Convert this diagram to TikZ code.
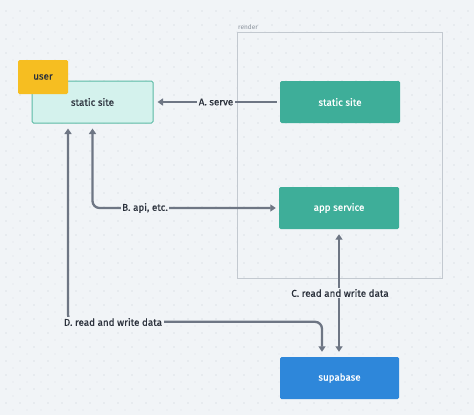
\documentclass[tikz,border=0pt]{standalone}
\usepackage{fontspec}
\setmainfont{Fira Sans}[BoldFont=Fira Sans, BoldFeatures={FakeBold=0.6}]
\usetikzlibrary{arrows.meta}
\definecolor{bgc}{HTML}{F1F4F7}
\definecolor{dotc}{HTML}{C9CED5}
\definecolor{dotl}{HTML}{DDE1E6}
\definecolor{framec}{HTML}{C3C9D0}
\definecolor{tealdark}{HTML}{3EAE99}
\definecolor{teallight}{HTML}{D4F2ED}
\definecolor{tealborder}{HTML}{5BBAA5}
\definecolor{yellowc}{HTML}{F6BE21}
\definecolor{bluec}{HTML}{2E87DA}
\definecolor{arrc}{HTML}{6E7684}
\definecolor{txtc}{HTML}{2B313C}
\definecolor{labc}{HTML}{8A929C}
\tikzset{
  boxbase/.style={rectangle, rounded corners=1.5pt, inner sep=0pt, font=\fontsize{9.8}{11}\selectfont\bfseries},
  darkbox/.style={boxbase, fill=tealdark, text=white, minimum width=120pt, minimum height=42pt},
  lightbox/.style={boxbase, fill=teallight, draw=tealborder, line width=1pt, text=txtc, minimum width=121pt, minimum height=42pt},
  userbox/.style={boxbase, fill=yellowc, text=txtc, minimum width=50pt, minimum height=34pt},
  bluebox/.style={boxbase, fill=bluec, text=white, minimum width=119pt, minimum height=42pt},
  arr/.style={draw=arrc, line width=2.3pt},
  tip/.style={-{Triangle[length=5.5pt,width=7pt]}},
  twotip/.style={{Triangle[length=5.5pt,width=7pt]}-{Triangle[length=5.5pt,width=7pt]}},
  lbl/.style={fill=bgc, text=txtc, inner sep=1.5pt, font=\fontsize{9.8}{11}\selectfont\bfseries},
}
\begin{document}
\begin{tikzpicture}[x=1pt,y=-1pt]
\fill[bgc] (0,0) rectangle (474,415);
\useasboundingbox (0,0) rectangle (474,415);
% dot grid
\foreach \i in {0,...,33} {
  \foreach \j in {0,...,29} {
    \fill[dotc] (6+14*\i,11+14*\j) circle (0.7);
    \fill[dotl] (13+14*\i,18+14*\j) circle (0.6);
  }
}
% render group
\node[anchor=south west, inner sep=0pt, text=labc, font=\fontsize{6.5}{7}\selectfont] (renderlbl) at (238,30) {render};
\draw[framec, line width=0.8pt] (237,32) rectangle (442,278);
% boxes
\node[lightbox] (lstatic) at (92.5,102) {static site};
\node[userbox] (user) at (43,77) {user};
\node[darkbox] (rstatic) at (340,102) {static site};
\node[darkbox] (app) at (339,208) {app service};
\node[bluebox] (supa) at (339.5,378) {supabase};
% A
\draw[arr,tip,shorten <=3pt,shorten >=4pt] (rstatic.west) -- (lstatic.east);
\node[lbl] (la) at (216,102) {A. serve};
% B
\draw[arr,twotip,rounded corners=7pt,shorten <=5pt,shorten >=3pt] (lstatic.south) |- (app.west);
\node[lbl] (lb) at (145,208) {B. api, etc.};
% D
\draw[arr,twotip,rounded corners=7pt,shorten <=5pt,shorten >=5pt] ([xshift=-24.5pt]lstatic.south) |- ([xshift=-17.5pt,yshift=35pt]supa.north) -- ([xshift=-17.5pt]supa.north);
\node[lbl] (ld) at (113,322) {D. read and write data};
% C
\draw[arr,twotip,shorten <=5pt,shorten >=5pt] (app.south) -- (app.south |- supa.north);
\node[lbl] (lc) at (340,293) {C. read and write data};
\end{tikzpicture}
\end{document}
